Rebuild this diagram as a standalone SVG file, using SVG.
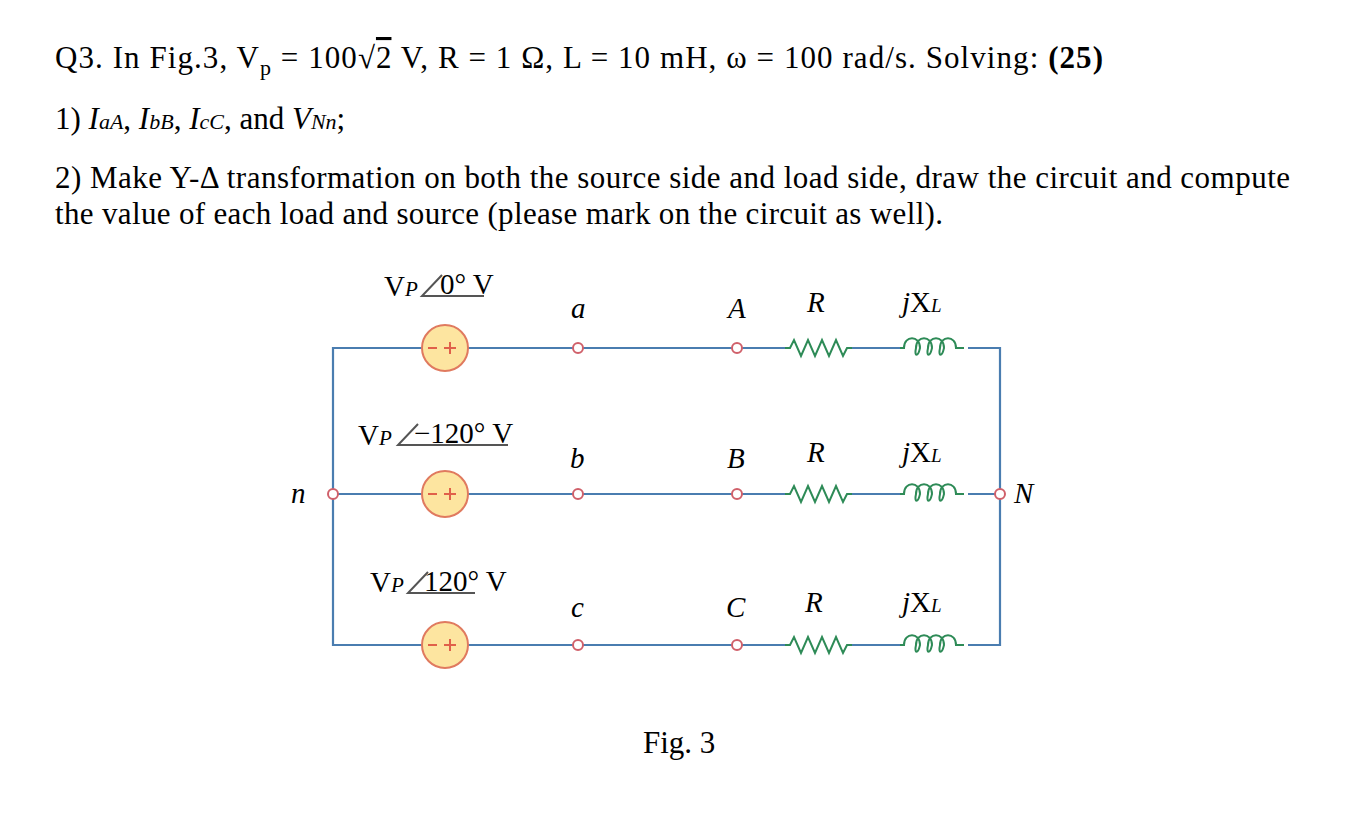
<svg xmlns="http://www.w3.org/2000/svg" width="1352" height="816" viewBox="0 0 1352 816">
<style>
text{font-family:"Liberation Serif",serif;fill:#000}
.t{font-size:31px}
.l{font-size:29px}
.i{font-style:italic}
.w{stroke:#4a7db0;stroke-width:2.2;fill:none}
.src{fill:#fde5a0;stroke:#e07a5f;stroke-width:2}
.pm{stroke:#e0604a;stroke-width:2;fill:none}
.term{fill:#fff;stroke:#d0606a;stroke-width:2}
.res{stroke:#2e8b57;stroke-width:2;fill:none}
.ang{stroke:#555;stroke-width:2;fill:none}
</style>
<rect width="1352" height="816" fill="#fff"/>
<g id="text">
<text class="t" x="55" y="68" textLength="1048">Q3. In Fig.3, V<tspan font-size="22" dy="7">p</tspan><tspan dy="-7"> = 100√</tspan><tspan text-decoration="overline">2</tspan> V, R = 1 Ω, L = 10 mH, ω = 100 rad/s. Solving: <tspan font-weight="bold">(25)</tspan></text>
<text class="t" x="55" y="129">1) <tspan class="i">I</tspan><tspan class="i" font-size="22">aA</tspan>, <tspan class="i">I</tspan><tspan class="i" font-size="22">bB</tspan>, <tspan class="i">I</tspan><tspan class="i" font-size="22">cC</tspan>, and <tspan class="i">V</tspan><tspan class="i" font-size="22">Nn</tspan>;</text>
<text class="t" x="55" y="188" textLength="1235">2) Make Y-Δ transformation on both the source side and load side, draw the circuit and compute</text>
<text class="t" x="55" y="224" textLength="888">the value of each load and source (please mark on the circuit as well).</text>
<text class="t" x="643" y="753">Fig. 3</text>
</g>
<g id="connectors">
<path class="w" d="M423 348H333V645H423M467 348H573M583 348H732M742 348H785M852 348H900M968 348H1000V645H968M852 645H900M785 645H742M732 645H583M573 645H467"/>
<path class="w" d="M338 494H423M467 494H573M583 494H732M742 494H785M852 494H900M968 494H995"/>
</g>
<g id="sources">
<g id="srcA"><circle class="src" cx="445" cy="348" r="23"/><path class="pm" d="M428 348h9M444 348h12M450 342v12"/></g>
<g id="srcB"><circle class="src" cx="445" cy="494" r="23"/><path class="pm" d="M428 494h9M444 494h12M450 488v12"/></g>
<g id="srcC"><circle class="src" cx="445" cy="645" r="23"/><path class="pm" d="M428 645h9M444 645h12M450 639v12"/></g>
</g>
<g id="terminals">
<circle class="term" cx="578" cy="348" r="5"/><circle class="term" cx="737" cy="348" r="5"/>
<circle class="term" cx="578" cy="494" r="5"/><circle class="term" cx="737" cy="494" r="5"/>
<circle class="term" cx="578" cy="645" r="5"/><circle class="term" cx="737" cy="645" r="5"/>
<circle class="term" cx="333" cy="494" r="5"/><circle class="term" cx="1000" cy="494" r="5"/>
</g>
<g id="loads">
<path class="res" d="M785 348h5l4 -8 7 16 7 -16 7 16 7 -16 7 16 7 -16 7 16 4 -8h5"/>
<path class="res" d="M785 494h5l4 -8 7 16 7 -16 7 16 7 -16 7 16 7 -16 7 16 4 -8h5"/>
<path class="res" d="M785 645h5l4 -8 7 16 7 -16 7 16 7 -16 7 16 7 -16 7 16 4 -8h5"/>
<path class="res" d="M900 348h4c0 -13 16 -13 16 0c-2 9 -6 9 -4 0c0 -13 16 -13 16 0c-2 9 -6 9 -4 0c0 -13 16 -13 16 0c-2 9 -6 9 -4 0c0 -13 16 -13 16 0h8"/>
<path class="res" d="M900 494h4c0 -13 16 -13 16 0c-2 9 -6 9 -4 0c0 -13 16 -13 16 0c-2 9 -6 9 -4 0c0 -13 16 -13 16 0c-2 9 -6 9 -4 0c0 -13 16 -13 16 0h8"/>
<path class="res" d="M900 645h4c0 -13 16 -13 16 0c-2 9 -6 9 -4 0c0 -13 16 -13 16 0c-2 9 -6 9 -4 0c0 -13 16 -13 16 0c-2 9 -6 9 -4 0c0 -13 16 -13 16 0h8"/>
</g>
<g id="labels">
<text class="l" x="384" y="296">V<tspan class="i" font-size="21">P</tspan></text>
<path class="ang" d="M442 275L422 296H484"/><text class="l" x="440" y="294">0° V</text>
<text class="l" x="358" y="445">V<tspan class="i" font-size="21">P</tspan></text>
<path class="ang" d="M418 424L398 445H508"/><text class="l" x="414" y="443">−120° V</text>
<text class="l" x="370" y="592">V<tspan class="i" font-size="21">P</tspan></text>
<path class="ang" d="M428 572L408 593H475"/><text class="l" x="424" y="591">120° V</text>
<text class="l i" x="571" y="318">a</text><text class="l i" x="728" y="318">A</text>
<text class="l i" x="570" y="468">b</text><text class="l i" x="727" y="468">B</text>
<text class="l i" x="571" y="617">c</text><text class="l i" x="726" y="617">C</text>
<text class="l i" x="807" y="312">R</text><text class="l i" x="807" y="462">R</text><text class="l i" x="805" y="612">R</text>
<text class="l" x="902" y="312"><tspan class="i">j</tspan>X<tspan class="i" font-size="19">L</tspan></text>
<text class="l" x="902" y="462"><tspan class="i">j</tspan>X<tspan class="i" font-size="19">L</tspan></text>
<text class="l" x="902" y="612"><tspan class="i">j</tspan>X<tspan class="i" font-size="19">L</tspan></text>
<text class="l i" x="291" y="503">n</text>
<text class="l i" x="1014" y="503">N</text>
</g>
</svg>
